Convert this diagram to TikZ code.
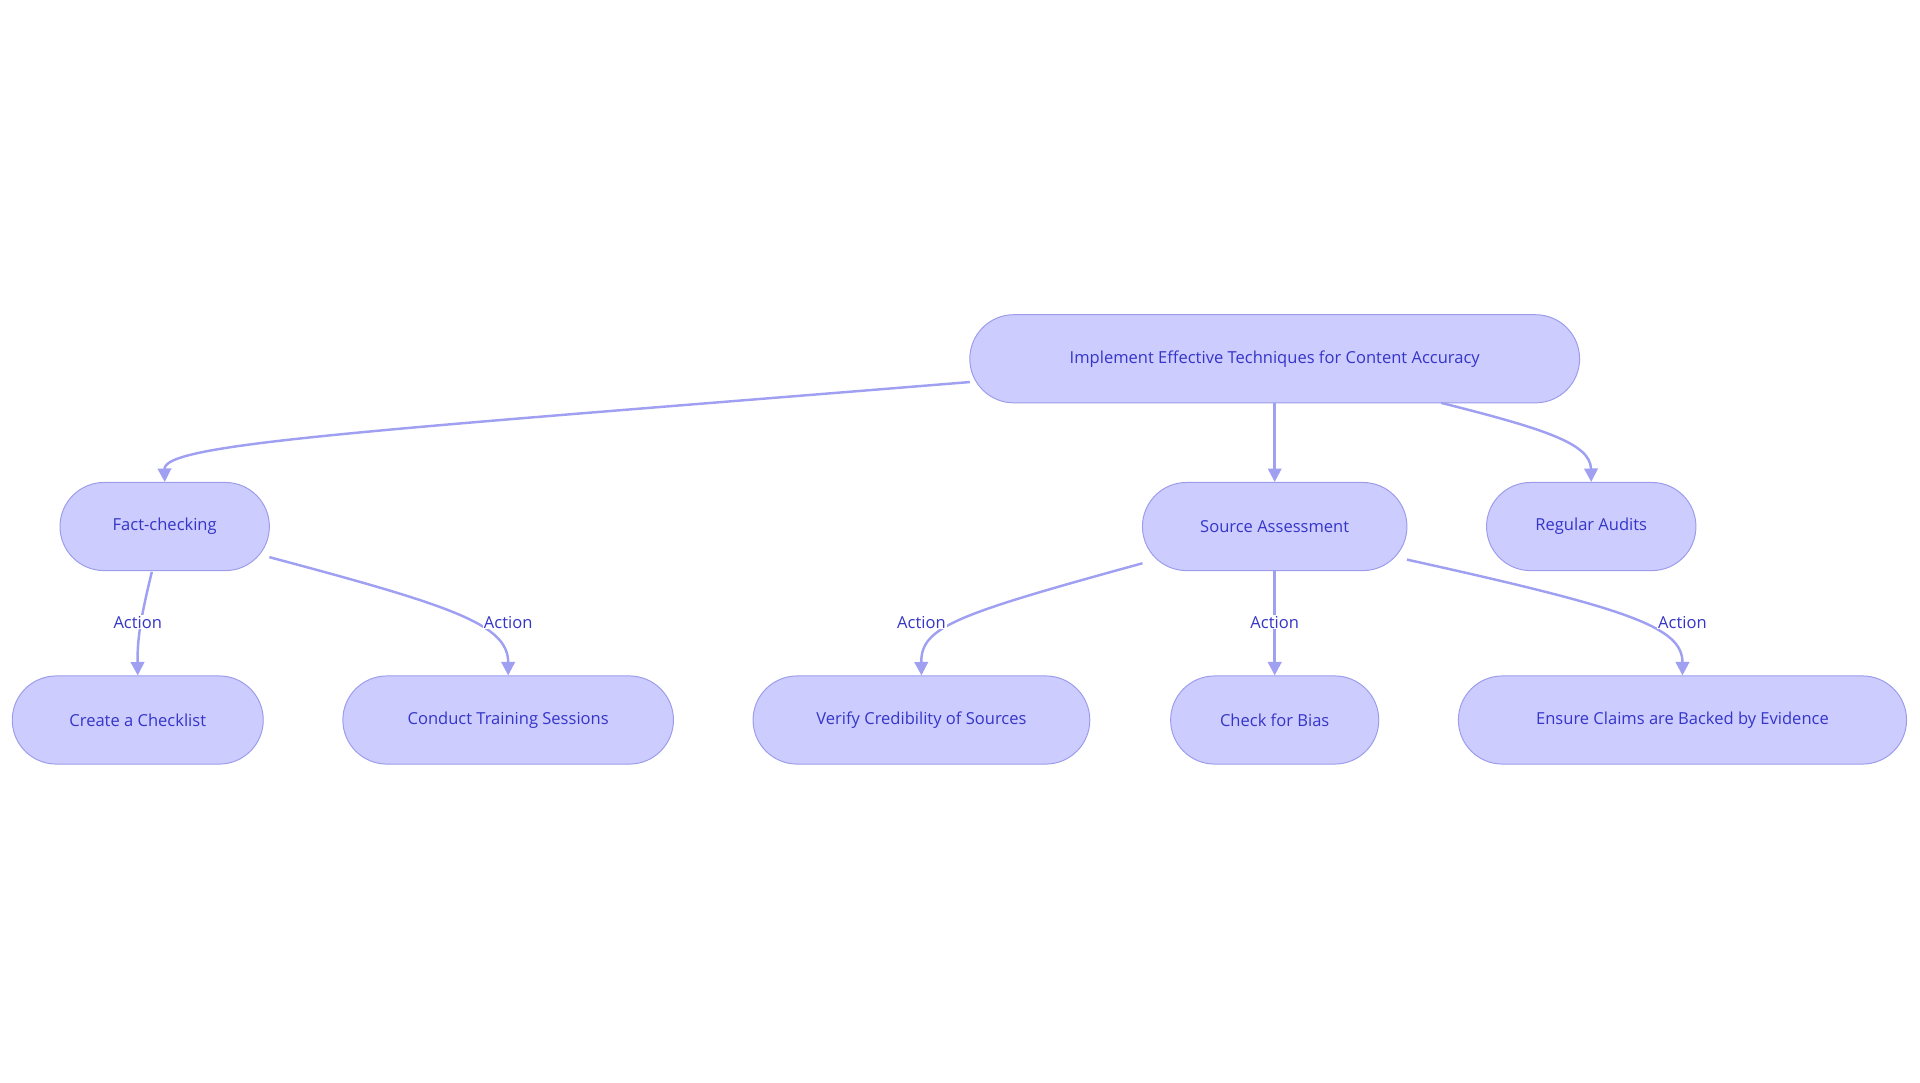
\documentclass[tikz,border=0pt]{standalone}
\usepackage{fontspec}
\setmainfont{Open Sans}
\usetikzlibrary{arrows.meta}
\definecolor{nfill}{HTML}{CCCCFF}
\definecolor{nline}{HTML}{9C9CEB}
\definecolor{ntext}{HTML}{3535C8}
\definecolor{eline}{HTML}{A0A0F2}
\tikzset{
  pill/.style={draw=nline,fill=nfill,line width=0.8pt,rounded corners=36pt,minimum height=72pt,text=ntext,font=\fontsize{13.5}{16}\selectfont,inner sep=0pt},
  edge/.style={draw=eline,line width=2pt,-{Triangle[length=11pt,width=11pt]}},
  lab/.style={fill=white,text=ntext,font=\fontsize{13.5}{16}\selectfont,inner sep=1pt}
}
\begin{document}
\begin{tikzpicture}[x=1pt,y=-1pt]
\useasboundingbox (0,0) rectangle (1568,884);
\node[pill,minimum width=498pt] (root) at (1041,293) {Implement Effective Techniques for Content Accuracy};
\node[pill,minimum width=171pt] (fc) at (134.5,430) {Fact-checking};
\node[pill,minimum width=216pt] (sa) at (1041,430) {Source Assessment};
\node[pill,minimum width=171pt] (ra) at (1299.5,430) {Regular Audits};
\node[pill,minimum width=205pt] (cc) at (112.5,588) {Create a Checklist};
\node[pill,minimum width=270pt] (ct) at (415,588) {Conduct Training Sessions};
\node[pill,minimum width=275pt] (vc) at (752.5,588) {Verify Credibility of Sources};
\node[pill,minimum width=170pt] (cb) at (1041,588) {Check for Bias};
\node[pill,minimum width=366pt] (ec) at (1374,588) {Ensure Claims are Backed by Evidence};
\coordinate (r1) at (792,312);
\coordinate (r2) at (1177,329);
\draw[edge] (r1) .. controls (300,352) and (134,362) .. (fc.north);
\draw[edge] (root.south) -- (sa.north);
\draw[edge] (r2) .. controls (1260,350) and (1299,362) .. (ra.north);
\coordinate (f1) at (124,467);
\coordinate (f2) at (220,455);
\draw[edge] (f1) .. controls (116,500) and (112,520) .. (cc.north);
\draw[edge] (f2) .. controls (370,495) and (415,510) .. (ct.north);
\coordinate (s1) at (933,460);
\coordinate (s3) at (1149,457);
\draw[edge] (s1) .. controls (780,502) and (752,512) .. (vc.north);
\draw[edge] (sa.south) -- (cb.north);
\draw[edge] (s3) .. controls (1330,497) and (1374,512) .. (ec.north);
\node[lab] (l1) at (112.5,508) {Action};
\node[lab] (l2) at (415,508) {Action};
\node[lab] (l3) at (752.5,508) {Action};
\node[lab] (l4) at (1041,508) {Action};
\node[lab] (l5) at (1374,508) {Action};
\end{tikzpicture}
\end{document}
